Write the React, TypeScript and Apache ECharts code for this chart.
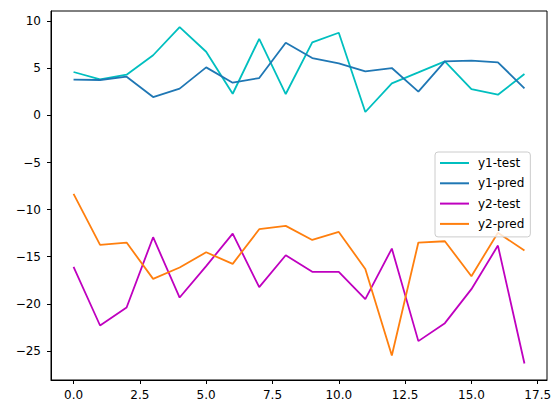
import React, { useEffect, useRef } from "react";
import * as echarts from "echarts";

const xValues = [0, 1, 2, 3, 4, 5, 6, 7, 8, 9, 10, 11, 12, 13, 14, 15, 16, 17];
const y1Test = [4.62, 3.84, 4.33, 6.4, 9.39, 6.77, 2.31, 8.15, 2.28, 7.77, 8.79, 0.37, 3.42, 4.58, 5.75, 2.81, 2.21, 4.4];
const y1Pred = [3.8, 3.77, 4.12, 1.96, 2.85, 5.11, 3.48, 3.98, 7.73, 6.1, 5.54, 4.69, 5.04, 2.53, 5.75, 5.82, 5.65, 2.89];
const y2Test = [-16.08, -22.31, -20.4, -12.93, -19.34, -16.0, -12.55, -18.24, -14.85, -16.61, -16.61, -19.51, -14.14, -23.97, -22.06, -18.45, -13.82, -26.35];
const y2Pred = [-8.33, -13.75, -13.5, -17.36, -16.15, -14.53, -15.76, -12.08, -11.73, -13.22, -12.37, -16.3, -25.5, -13.5, -13.36, -17.07, -12.45, -14.35];
const xTicks = [0, 2.5, 5, 7.5, 10, 12.5, 15, 17.5];
const yTicks = [-25, -20, -15, -10, -5, 0, 5, 10];
const seriesNames = ["y1-test", "y1-pred", "y2-test", "y2-pred"];
const seriesColors = ["#00bfbf", "#1f77b4", "#bf00bf", "#ff7f0e"];

const fmtMinus = (v: number) => (v < 0 ? "\u2212" + String(Math.abs(v)) : String(v));

export default function App() {
  const ref = useRef<HTMLDivElement>(null);
  useEffect(() => {
    document.body.style.margin = "0";
    const chart = echarts.init(ref.current!, null, { renderer: "svg" });
    const all = [y1Test, y1Pred, y2Test, y2Pred];
    const font = "DejaVu Sans";
    chart.setOption({
      animation: false,
      backgroundColor: "#ffffff",
      textStyle: { fontFamily: font },
      grid: {
        left: 51,
        right: 13,
        top: 11,
        bottom: 34,
        show: true,
        borderColor: "#000",
        borderWidth: 1,
        backgroundColor: "transparent",
      },
      legend: {
        orient: "vertical",
        left: 435,
        top: 152,
        width: 104,
        icon: "rect",
        itemWidth: 29,
        itemHeight: 2,
        itemGap: 6.3,
        padding: [4, 6, 6, 5],
        backgroundColor: "rgba(255,255,255,0.8)",
        borderColor: "#cccccc",
        borderWidth: 1,
        borderRadius: 3,
        z: 10,
        textStyle: { fontSize: 12, lineHeight: 14, color: "#000", fontFamily: font, padding: [0, 0, 0, 4] },
        data: seriesNames,
      },
      xAxis: {
        type: "value",
        min: -0.85,
        max: 17.85,
        splitLine: { show: false },
        axisLine: { show: true, onZero: false, lineStyle: { color: "#000", width: 1 } },
        axisTick: { show: true, length: 4, customValues: xTicks, lineStyle: { color: "#000", width: 1 } },
        axisLabel: {
          customValues: xTicks,
          formatter: (v: number) => v.toFixed(1),
          color: "#000",
          fontSize: 12,
          fontFamily: font,
          margin: 9,
        },
      },
      yAxis: {
        type: "value",
        min: -28.1,
        max: 11.1,
        splitLine: { show: false },
        axisLine: { show: true, onZero: false, lineStyle: { color: "#000", width: 1 } },
        axisTick: { show: true, length: 4, customValues: yTicks, lineStyle: { color: "#000", width: 1 } },
        axisLabel: {
          customValues: yTicks,
          formatter: (v: number) => fmtMinus(v),
          color: "#000",
          fontSize: 12,
          fontFamily: font,
          margin: 10,
        },
      },
      series: all.map((vals, k) => ({
        name: seriesNames[k],
        type: "line",
        data: xValues.map((x, i) => [x, vals[i]]),
        symbol: "none",
        showSymbol: false,
        color: seriesColors[k],
        lineStyle: { color: seriesColors[k], width: 1.8 },
        z: 2 + k,
      })),
    });
    return () => chart.dispose();
  }, []);
  return <div ref={ref} style={{ width: 560, height: 414 }} />;
}
